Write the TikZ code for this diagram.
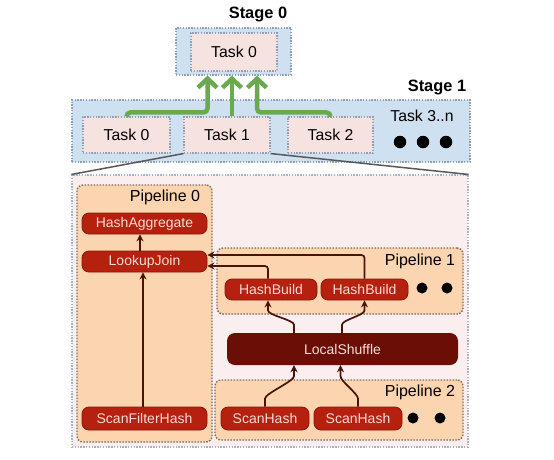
\documentclass[tikz,border=0pt]{standalone}
\usepackage{fontspec}
\setmainfont{Liberation Sans}
\usetikzlibrary{arrows.meta}
\definecolor{stageblue}{HTML}{CFE0F1}
\definecolor{taskpink}{HTML}{F6E3E0}
\definecolor{bigpink}{HTML}{FAEEEF}
\definecolor{pipeorange}{HTML}{FBD5AF}
\definecolor{opred}{HTML}{B5200F}
\definecolor{opredborder}{HTML}{8E1408}
\definecolor{shuffle}{HTML}{6A0E06}
\definecolor{optext}{HTML}{F9DDD6}
\definecolor{arrowbrown}{HTML}{4A1208}
\definecolor{greenarrow}{HTML}{6AAA4E}
\definecolor{bluedot}{HTML}{8F9FB8}
\definecolor{pipedot}{HTML}{7E6A5A}
\tikzset{
  stagebox/.style={draw=bluedot, fill=stageblue, line width=1.1pt, dash pattern=on 1.4pt off 1.4pt, inner sep=0pt},
  taskbox/.style={draw=bluedot, fill=taskpink, line width=1.1pt, dash pattern=on 1.4pt off 1.4pt, inner sep=0pt, font=\fontsize{15.8}{18}\selectfont},
  bigbox/.style={draw=bluedot!80, fill=bigpink, line width=1.1pt, dash pattern=on 1.4pt off 1.4pt, inner sep=0pt},
  pipebox/.style={draw=pipedot, fill=pipeorange, line width=1.4pt, dash pattern=on 1.5pt off 1.5pt, rounded corners=6pt, inner sep=0pt},
  opnode/.style={draw=opredborder, fill=opred, line width=0.8pt, rounded corners=7pt, text=optext, inner sep=0pt, font=\fontsize{14}{16}\selectfont},
  shufnode/.style={fill=shuffle, rounded corners=8pt, text=optext, inner sep=0pt, font=\fontsize{14}{16}\selectfont},
  lbl/.style={font=\fontsize{16}{19}\selectfont, inner sep=0pt},
  stagelbl/.style={font=\bfseries\fontsize{16.4}{19}\selectfont, inner sep=0pt},
  garrow/.style={draw=greenarrow, line width=4.5pt, rounded corners=4pt, -{Straight Barb[length=9pt,width=19pt,line width=4.5pt]}},
  barrow/.style={draw=arrowbrown, line width=1.7pt, rounded corners=3pt, -{Stealth[length=7pt,width=7pt]}},
  zoomline/.style={draw=black!65, line width=1.5pt},
  dot/.style={circle, fill=black, inner sep=0pt}
}
\begin{document}
\begin{tikzpicture}[x=1pt,y=-1pt]
\useasboundingbox[fill=white] (0,0) rectangle (554,459);
% Stage 0
\node[stagelbl] (st0lbl) at (258,15) {Stage 0};
\node[stagebox, minimum width=115pt, minimum height=47pt] (s0) at (233.5,51.5) {};
\node[taskbox, minimum width=86pt, minimum height=38pt] (s0t0) at (234,52) {Task 0};
% Stage 1
\node[stagelbl] (st1lbl) at (437,88) {Stage 1};
\node[stagebox, minimum width=398pt, minimum height=62pt] (s1) at (271,131) {};
\node[taskbox, minimum width=87pt, minimum height=36pt] (t0) at (126.5,135) {Task 0};
\node[taskbox, minimum width=86pt, minimum height=36pt] (t1) at (227,135) {Task 1};
\node[taskbox, minimum width=85pt, minimum height=36pt] (t2) at (330.5,135) {Task 2};
\node[lbl, font=\fontsize{15.8}{18}\selectfont] (t3n) at (422,116) {Task 3..n};
\node[dot, minimum size=12.5pt] (d1) at (400,142) {};
\node[dot, minimum size=12.5pt] (d2) at (423,142) {};
\node[dot, minimum size=12.5pt] (d3) at (446,142) {};
% green arrows
\draw[garrow] (t0.north) -- ++(0,-4) -| ([xshift=-26pt]s0.south);
\draw[garrow] ([xshift=5pt]t1.north) -- ([xshift=-1.5pt]s0.south);
\draw[garrow] (t2.north) -- ++(0,-4) -| ([xshift=23.5pt]s0.south);
% big task box
\node[bigbox, minimum width=396pt, minimum height=272pt] (big) at (270,311) {};
\draw[zoomline] (t1.south west) -- (big.north west);
\draw[zoomline] (t1.south east) -- (big.north east);
% Pipelines
\node[pipebox, minimum width=135pt, minimum height=257pt] (p0) at (144.5,313.5) {};
\node[lbl] (p0lbl) at (165,197) {Pipeline 0};
\node[pipebox, minimum width=246pt, minimum height=66pt] (p1) at (340,281) {};
\node[lbl] (p1lbl) at (420,261) {Pipeline 1};
\node[pipebox, minimum width=248pt, minimum height=60pt] (p2) at (339,410) {};
\node[lbl] (p2lbl) at (420,392) {Pipeline 2};
% operators
\node[opnode, minimum width=125pt, minimum height=21pt] (ha) at (144.5,223.5) {HashAggregate};
\node[opnode, minimum width=125pt, minimum height=21pt] (lj) at (144.5,261.5) {LookupJoin};
\node[opnode, minimum width=125pt, minimum height=23pt] (sfh) at (144.5,418.5) {ScanFilterHash};
\node[opnode, minimum width=92pt, minimum height=21pt] (hb1) at (271,289.5) {HashBuild};
\node[opnode, minimum width=87pt, minimum height=21pt] (hb2) at (364.5,289.5) {HashBuild};
\node[dot, minimum size=11pt] (pd1) at (422,288) {};
\node[dot, minimum size=11pt] (pd2) at (447,288) {};
\node[shufnode, minimum width=231pt, minimum height=32pt] (ls) at (342.5,349) {LocalShuffle};
\node[opnode, minimum width=88pt, minimum height=23pt] (sh1) at (265,418.5) {ScanHash};
\node[opnode, minimum width=88pt, minimum height=23pt] (sh2) at (358,418.5) {ScanHash};
\node[dot, minimum size=11pt] (qd1) at (413,418) {};
\node[dot, minimum size=11pt] (qd2) at (440,418) {};
% brown arrows
\draw[barrow] ([xshift=-1.5pt]sfh.north) -- ([xshift=-1.5pt]lj.south);
\draw[barrow] ([xshift=-4.5pt]lj.north) -- ([xshift=-4.5pt]ha.south);
\draw[barrow] ([xshift=-3pt]hb1.north) |- ([yshift=-4.5pt]lj.east);
\draw[barrow] (hb2.north) |- ([yshift=6.5pt]lj.east);
\draw[barrow] (sh1.north) -- ++(0,-5) .. controls +(0,-8) and +(0,8) .. ([xshift=-48.5pt,yshift=-8pt]ls.south) -- ([xshift=-48.5pt]ls.south);
\draw[barrow] (sh2.north) -- ++(0,-5) .. controls +(0,-8) and +(0,8) .. ([xshift=-2pt,yshift=-8pt]ls.south) -- ([xshift=-2pt]ls.south);
\draw[barrow] ([xshift=-48.5pt]ls.north) -- ++(0,-5) .. controls +(0,-8) and +(0,8) .. ([xshift=-3pt,yshift=-7pt]hb1.south) -- ([xshift=-3pt]hb1.south);
\draw[barrow] ([xshift=-0.5pt]ls.north) -- ++(0,-5) .. controls +(0,-8) and +(0,8) .. ([yshift=-7pt]hb2.south) -- (hb2.south);
\end{tikzpicture}
\end{document}
